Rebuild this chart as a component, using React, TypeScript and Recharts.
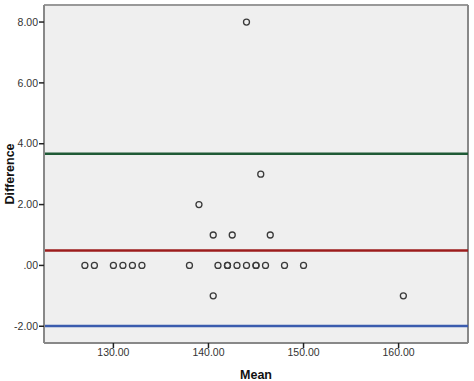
import React from "react";
import { CartesianGrid, ReferenceLine, Scatter, ScatterChart, XAxis, YAxis } from "recharts";

const meanValues = [
  127, 128, 130, 131, 132, 133, 138, 141, 142, 142, 143, 144, 145, 145, 146, 148, 150,
  144, 145.5, 139, 140.5, 142.5, 146.5, 140.5, 160.5,
];
const diffValues = [
  0, 0, 0, 0, 0, 0, 0, 0, 0, 0, 0, 0, 0, 0, 0, 0, 0,
  8, 3, 2, 1, 1, 1, -1, -1,
];
const xTicks = [130, 140, 150, 160];
const yTicks = [-2, 0, 2, 4, 6, 8];
const upperLimit = 3.67;
const meanDiff = 0.49;
const lowerLimit = -1.99;
const xDomain = [122.7, 167.3];
const yDomain = [-2.55, 8.56];

const points = meanValues.map((m, i) => ({ mean: m, diff: diffValues[i] }));

const fmtY = (v: number) => (v === 0 ? ".00" : v.toFixed(2));
const fmtX = (v: number) => v.toFixed(2);

const Ring = (props: any) => {
  const { cx, cy } = props;
  return <circle cx={cx} cy={cy} r={3} fill="none" stroke="#3a3a3a" strokeWidth={1.3} />;
};

const font = { fontFamily: "Liberation Sans, Arial, sans-serif", fontSize: 10.5, fill: "#333" };
const titleStyle = { fontFamily: "Liberation Sans, Arial, sans-serif", fontWeight: "bold", fontSize: 12.5, fill: "#111" };

export default function App() {
  return (
    <div style={{ position: "absolute", left: 0, top: 0, background: "#fff" }}>
      <ScatterChart width={474} height={381} margin={{ top: 5, right: 6, bottom: 0, left: 0 }}>
        <CartesianGrid horizontal={false} vertical={false} fill="#efefef" />
        <XAxis
          type="number"
          dataKey="mean"
          domain={xDomain}
          ticks={xTicks}
          tickFormatter={fmtX}
          allowDataOverflow
          height={38}
          tickSize={5}
          tickMargin={1}
          tick={font}
          axisLine={{ stroke: "#888", strokeWidth: 2 }}
          tickLine={{ stroke: "#222", strokeWidth: 1.5 }}
          label={{ value: "Mean", position: "insideBottom", offset: 0, dy: -2, style: titleStyle }}
        />
        <YAxis
          type="number"
          dataKey="diff"
          domain={yDomain}
          ticks={yTicks}
          tickFormatter={fmtY}
          allowDataOverflow
          width={44}
          tickSize={5}
          tickMargin={1}
          tick={font}
          axisLine={{ stroke: "#888", strokeWidth: 2 }}
          tickLine={{ stroke: "#222", strokeWidth: 1.5 }}
          label={{ value: "Difference", angle: -90, position: "insideLeft", offset: 0, dx: 10, style: { ...titleStyle, textAnchor: "middle" } }}
        />
        <ReferenceLine y={yDomain[1]} stroke="#999" strokeWidth={2} />
        <ReferenceLine x={xDomain[1]} stroke="#888" strokeWidth={2} />
        <ReferenceLine y={upperLimit} stroke="#1f5a36" strokeWidth={2.5} />
        <ReferenceLine y={meanDiff} stroke="#9c1c1c" strokeWidth={2.5} />
        <ReferenceLine y={lowerLimit} stroke="#3b5cae" strokeWidth={2.5} />
        <Scatter data={points} shape={Ring} isAnimationActive={false} />
      </ScatterChart>
    </div>
  );
}
